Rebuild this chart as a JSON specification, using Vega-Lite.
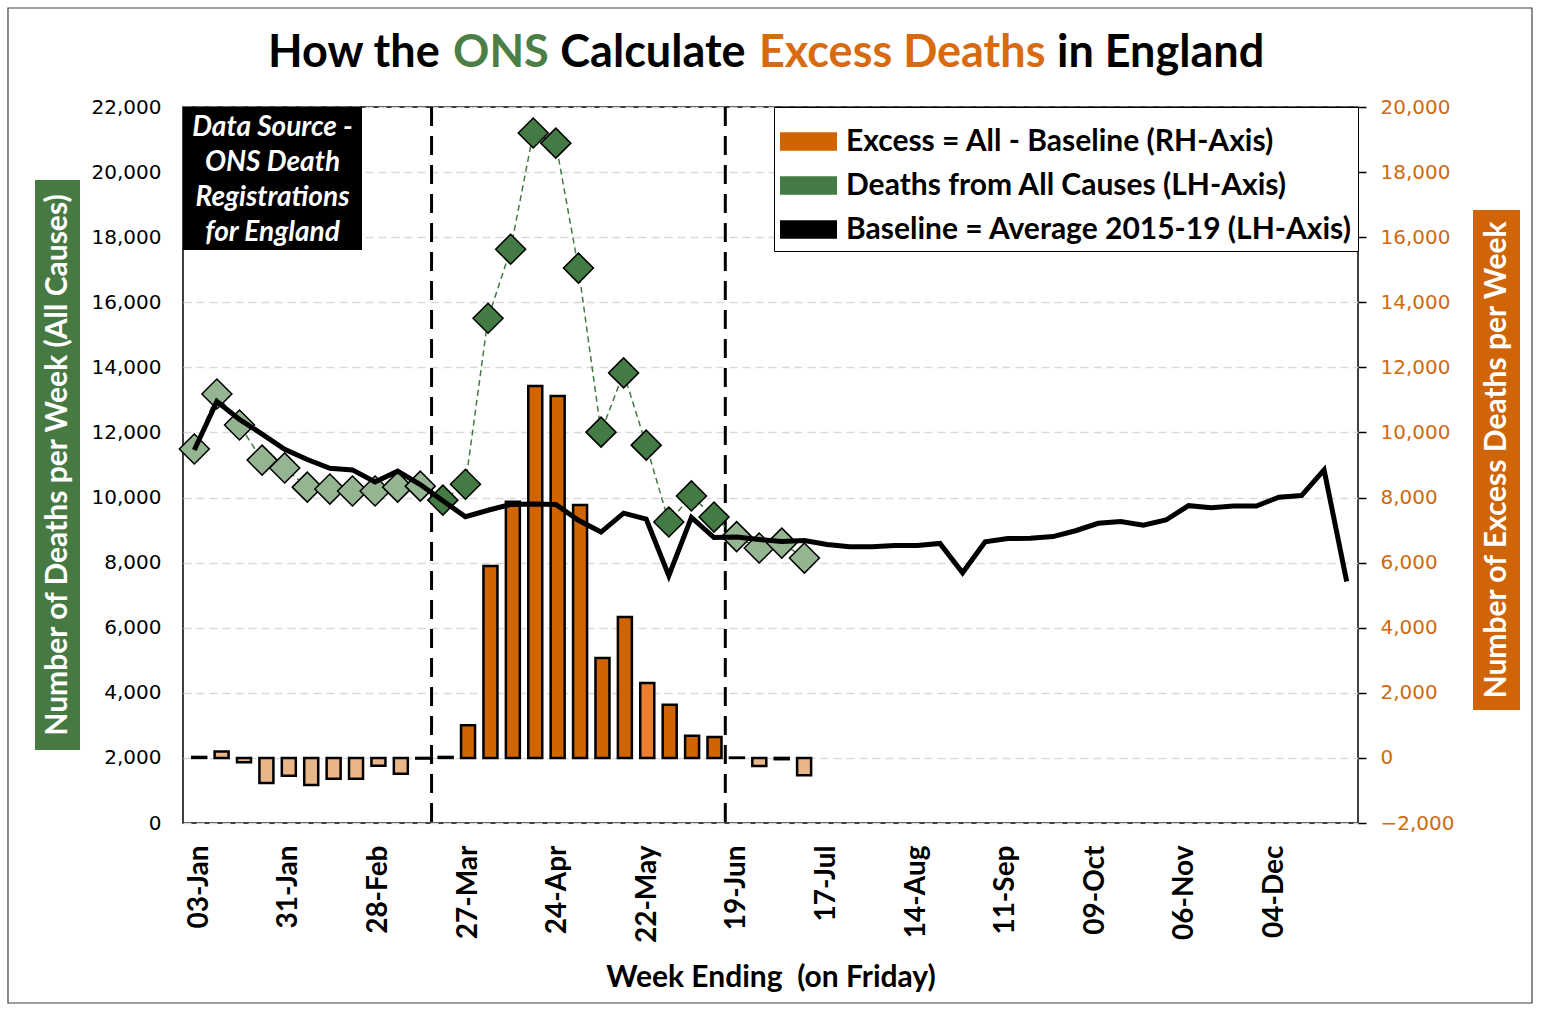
{
  "$schema": "https://vega.github.io/schema/vega-lite/v6.json",
  "width": 1175,
  "height": 716,
  "autosize": {"type": "none"},
  "padding": {"left": 183, "top": 107, "right": 184, "bottom": 190},
  "background": "white",
  "config": {"view": {"stroke": "black", "strokeWidth": 1.5}},
  "data": {"values": [
    {"wk": 1, "week": "2020-01-03", "deaths": 11490, "baseline": 11460, "excess": 30},
    {"wk": 2, "week": "2020-01-10", "deaths": 13180, "baseline": 12950, "excess": 200},
    {"wk": 3, "week": "2020-01-17", "deaths": 12230, "baseline": 12400, "excess": -130},
    {"wk": 4, "week": "2020-01-24", "deaths": 11150, "baseline": 11950, "excess": -770},
    {"wk": 5, "week": "2020-01-31", "deaths": 10910, "baseline": 11480, "excess": -550},
    {"wk": 6, "week": "2020-02-07", "deaths": 10320, "baseline": 11170, "excess": -830},
    {"wk": 7, "week": "2020-02-14", "deaths": 10260, "baseline": 10900, "excess": -640},
    {"wk": 8, "week": "2020-02-21", "deaths": 10200, "baseline": 10850, "excess": -640},
    {"wk": 9, "week": "2020-02-28", "deaths": 10200, "baseline": 10480, "excess": -240},
    {"wk": 10, "week": "2020-03-06", "deaths": 10320, "baseline": 10810, "excess": -490},
    {"wk": 11, "week": "2020-03-13", "deaths": 10350, "baseline": 10400, "excess": -20},
    {"wk": 12, "week": "2020-03-20", "deaths": 9920, "baseline": 9900, "excess": 30},
    {"wk": 13, "week": "2020-03-27", "deaths": 10410, "baseline": 9410, "excess": 1000},
    {"wk": 14, "week": "2020-04-03", "deaths": 15510, "baseline": 9610, "excess": 5900},
    {"wk": 15, "week": "2020-04-10", "deaths": 17630, "baseline": 9790, "excess": 7870},
    {"wk": 16, "week": "2020-04-17", "deaths": 21200, "baseline": 9800, "excess": 11430},
    {"wk": 17, "week": "2020-04-24", "deaths": 20890, "baseline": 9790, "excess": 11120},
    {"wk": 18, "week": "2020-05-01", "deaths": 17050, "baseline": 9300, "excess": 7770},
    {"wk": 19, "week": "2020-05-08", "deaths": 12010, "baseline": 8940, "excess": 3070},
    {"wk": 20, "week": "2020-05-15", "deaths": 13830, "baseline": 9520, "excess": 4330},
    {"wk": 21, "week": "2020-05-22", "deaths": 11610, "baseline": 9340, "excess": 2300},
    {"wk": 22, "week": "2020-05-29", "deaths": 9250, "baseline": 7600, "excess": 1630},
    {"wk": 23, "week": "2020-06-05", "deaths": 10050, "baseline": 9390, "excess": 680},
    {"wk": 24, "week": "2020-06-12", "deaths": 9400, "baseline": 8770, "excess": 640},
    {"wk": 25, "week": "2020-06-19", "deaths": 8800, "baseline": 8790, "excess": 10},
    {"wk": 26, "week": "2020-06-26", "deaths": 8450, "baseline": 8710, "excess": -250},
    {"wk": 27, "week": "2020-07-03", "deaths": 8600, "baseline": 8650, "excess": -40},
    {"wk": 28, "week": "2020-07-10", "deaths": 8140, "baseline": 8680, "excess": -530},
    {"wk": 29, "week": "2020-07-17", "deaths": null, "baseline": 8560, "excess": null},
    {"wk": 30, "week": "2020-07-24", "deaths": null, "baseline": 8490, "excess": null},
    {"wk": 31, "week": "2020-07-31", "deaths": null, "baseline": 8490, "excess": null},
    {"wk": 32, "week": "2020-08-07", "deaths": null, "baseline": 8530, "excess": null},
    {"wk": 33, "week": "2020-08-14", "deaths": null, "baseline": 8530, "excess": null},
    {"wk": 34, "week": "2020-08-21", "deaths": null, "baseline": 8590, "excess": null},
    {"wk": 35, "week": "2020-08-28", "deaths": null, "baseline": 7690, "excess": null},
    {"wk": 36, "week": "2020-09-04", "deaths": null, "baseline": 8640, "excess": null},
    {"wk": 37, "week": "2020-09-11", "deaths": null, "baseline": 8740, "excess": null},
    {"wk": 38, "week": "2020-09-18", "deaths": null, "baseline": 8750, "excess": null},
    {"wk": 39, "week": "2020-09-25", "deaths": null, "baseline": 8800, "excess": null},
    {"wk": 40, "week": "2020-10-02", "deaths": null, "baseline": 8980, "excess": null},
    {"wk": 41, "week": "2020-10-09", "deaths": null, "baseline": 9210, "excess": null},
    {"wk": 42, "week": "2020-10-16", "deaths": null, "baseline": 9260, "excess": null},
    {"wk": 43, "week": "2020-10-23", "deaths": null, "baseline": 9150, "excess": null},
    {"wk": 44, "week": "2020-10-30", "deaths": null, "baseline": 9310, "excess": null},
    {"wk": 45, "week": "2020-11-06", "deaths": null, "baseline": 9750, "excess": null},
    {"wk": 46, "week": "2020-11-13", "deaths": null, "baseline": 9690, "excess": null},
    {"wk": 47, "week": "2020-11-20", "deaths": null, "baseline": 9740, "excess": null},
    {"wk": 48, "week": "2020-11-27", "deaths": null, "baseline": 9740, "excess": null},
    {"wk": 49, "week": "2020-12-04", "deaths": null, "baseline": 10010, "excess": null},
    {"wk": 50, "week": "2020-12-11", "deaths": null, "baseline": 10060, "excess": null},
    {"wk": 51, "week": "2020-12-18", "deaths": null, "baseline": 10850, "excess": null},
    {"wk": 52, "week": "2020-12-25", "deaths": null, "baseline": 7420, "excess": null}
  ]},
  "layer": [
    {
      "mark": {"type": "bar", "size": 14, "stroke": "black", "strokeWidth": 2.5},
      "encoding": {
        "x": {
          "field": "week", "type": "temporal",
          "scale": {"type": "utc", "nice": false, "domain": [1577707200000, 1609156800000]},
          "axis": {
            "values": [1578009600000, 1580428800000, 1582848000000, 1585267200000, 1587686400000, 1590105600000, 1592524800000, 1594944000000, 1597363200000, 1599782400000, 1602201600000, 1604620800000, 1607040000000],
            "labelExpr": "utcFormat(datum.value, '%d-%b')",
            "labelAngle": 270,
            "labelFont": "Lato", "labelFontWeight": "bold", "labelFontSize": 28, "labelColor": "black",
            "labelPadding": 22, "labelFlush": false, "labelOverlap": false,
            "ticks": false, "domain": false, "grid": false,
            "title": "Week Ending\u00a0 (on Friday)",
            "titleFont": "Lato", "titleFontWeight": "bold", "titleFontSize": 30, "titleColor": "black", "titlePadding": 20
          }
        },
        "y": {
          "field": "excess", "type": "quantitative",
          "scale": {"domain": [-2000, 20000], "nice": false},
          "axis": {
            "orient": "right", "values": [-2000, 0, 2000, 4000, 6000, 8000, 10000, 12000, 14000, 16000, 18000, 20000],
            "format": ",d", "labelFont": "DejaVu Sans", "labelFontSize": 20, "labelColor": "#D0690F",
            "ticks": true, "tickSize": 8, "tickColor": "black", "tickWidth": 1.5, "labelPadding": 14,
            "domain": false, "grid": false, "title": null
          }
        },
        "color": {
          "condition": [
            {"test": "datum.wk == 21", "value": "#ED7D31"},
            {"test": "datum.wk < 12 || datum.wk > 24", "value": "#E9B68A"}
          ],
          "datum": "Excess = All - Baseline (RH-Axis)",
          "scale": {
            "domain": ["Excess = All - Baseline (RH-Axis)", "Deaths from All Causes (LH-Axis)", "Baseline = Average 2015-19 (LH-Axis)"],
            "range": ["#D06400", "#447B44", "#000000"]
          },
          "legend": {
            "title": null, "orient": "top-right", "offset": 0, "fillColor": "white", "strokeColor": "black",
            "padding": 6, "labelFont": "Lato", "labelFontWeight": "bold", "labelFontSize": 30, "labelLimit": 800,
            "symbolType": "M-1,-0.3H1V0.3H-1Z", "symbolSize": 3025, "labelOffset": 9, "rowPadding": 0,
            "symbolStrokeWidth": 2, "symbolStrokeColor": "black"
          }
        }
      }
    },
    {
      "data": {"values": [{"note": "frame"}]},
      "mark": {"type": "rect", "fillOpacity": 0, "stroke": "#404040", "strokeWidth": 1.2},
      "encoding": {
        "x": {"datum": -7.245, "type": "quantitative", "axis": null, "scale": {"domain": [0.5, 52.5], "nice": false, "zero": false}},
        "x2": {"datum": 60.2},
        "y": {"datum": 25042, "type": "quantitative", "axis": null, "scale": {"domain": [0, 22000], "nice": false, "zero": false}},
        "y2": {"datum": -5531}
      }
    },
    {
      "data": {"values": [{"note": "left axis title box"}]},
      "mark": {"type": "rect", "color": "#477A43"},
      "encoding": {
        "x": {"datum": -6.05, "type": "quantitative", "axis": null, "scale": {"domain": [0.5, 52.5], "nice": false, "zero": false}},
        "x2": {"datum": -4.058},
        "y": {"datum": 2243, "type": "quantitative", "axis": null, "scale": {"domain": [0, 22000], "nice": false, "zero": false}},
        "y2": {"datum": 19757}
      }
    },
    {
      "data": {"values": [{"note": "right axis title box"}]},
      "mark": {"type": "rect", "color": "#CF6408"},
      "encoding": {
        "x": {"datum": 57.59, "type": "quantitative", "axis": null, "scale": {"domain": [0.5, 52.5], "nice": false, "zero": false}},
        "x2": {"datum": 59.67},
        "y": {"datum": 3472, "type": "quantitative", "axis": null, "scale": {"domain": [0, 22000], "nice": false, "zero": false}},
        "y2": {"datum": 18835}
      }
    },
    {
      "data": {"values": [{"note": "left axis title"}]},
      "mark": {"type": "text", "text": "Number of Deaths per Week (All Causes)", "angle": 270, "font": "Lato", "fontWeight": "bold", "fontSize": 30, "color": "white", "align": "center", "baseline": "middle"},
      "encoding": {
        "x": {"datum": -5.054, "type": "quantitative", "axis": null, "scale": {"domain": [0.5, 52.5], "nice": false, "zero": false}},
        "y": {"datum": 11000, "type": "quantitative", "axis": null, "scale": {"domain": [0, 22000], "nice": false, "zero": false}}
      }
    },
    {
      "data": {"values": [{"note": "right axis title"}]},
      "mark": {"type": "text", "text": "Number of Excess Deaths per Week", "angle": 270, "font": "Lato", "fontWeight": "bold", "fontSize": 30, "color": "white", "align": "center", "baseline": "middle"},
      "encoding": {
        "x": {"datum": 58.63, "type": "quantitative", "axis": null, "scale": {"domain": [0.5, 52.5], "nice": false, "zero": false}},
        "y": {"datum": 11154, "type": "quantitative", "axis": null, "scale": {"domain": [0, 22000], "nice": false, "zero": false}}
      }
    },
    {
      "data": {"values": [{"note": "source box"}]},
      "mark": {"type": "rect", "color": "black"},
      "encoding": {
        "x": {"datum": 0.5, "type": "quantitative", "axis": null, "scale": {"domain": [0.5, 52.5], "nice": false, "zero": false}},
        "x2": {"datum": 8.422},
        "y": {"datum": 17606, "type": "quantitative", "axis": null, "scale": {"domain": [0, 22000], "nice": false, "zero": false}},
        "y2": {"datum": 22000}
      }
    },
    {
      "data": {"values": [{"note": "source"}]},
      "mark": {"type": "text", "text": ["Data Source -", "ONS Death", "Registrations", "for England"], "lineHeight": 35, "font": "Lato", "fontWeight": "bold", "fontStyle": "italic", "fontSize": 28, "color": "white", "align": "center", "baseline": "middle"},
      "encoding": {
        "x": {"datum": 4.461, "type": "quantitative", "axis": null, "scale": {"domain": [0.5, 52.5], "nice": false, "zero": false}},
        "y": {"datum": 21355, "type": "quantitative", "axis": null, "scale": {"domain": [0, 22000], "nice": false, "zero": false}}
      }
    },
    {
      "data": {"values": [{"note": "title"}]},
      "mark": {"type": "text", "text": "How the", "font": "Lato", "fontWeight": "bold", "fontSize": 45, "color": "black", "align": "left", "baseline": "alphabetic"},
      "encoding": {
        "x": {"datum": 4.262, "type": "quantitative", "axis": null, "scale": {"domain": [0.5, 52.5], "nice": false, "zero": false}},
        "y": {"datum": 23229, "type": "quantitative", "axis": null, "scale": {"domain": [0, 22000], "nice": false, "zero": false}}
      }
    },
    {
      "data": {"values": [{"note": "title"}]},
      "mark": {"type": "text", "text": "ONS", "font": "Lato", "fontWeight": "bold", "fontSize": 45, "color": "#4B7F45", "align": "left", "baseline": "alphabetic"},
      "encoding": {
        "x": {"datum": 12.45, "type": "quantitative", "axis": null, "scale": {"domain": [0.5, 52.5], "nice": false, "zero": false}},
        "y": {"datum": 23229, "type": "quantitative", "axis": null, "scale": {"domain": [0, 22000], "nice": false, "zero": false}}
      }
    },
    {
      "data": {"values": [{"note": "title"}]},
      "mark": {"type": "text", "text": "Calculate", "font": "Lato", "fontWeight": "bold", "fontSize": 45, "color": "black", "align": "left", "baseline": "alphabetic"},
      "encoding": {
        "x": {"datum": 17.2, "type": "quantitative", "axis": null, "scale": {"domain": [0.5, 52.5], "nice": false, "zero": false}},
        "y": {"datum": 23229, "type": "quantitative", "axis": null, "scale": {"domain": [0, 22000], "nice": false, "zero": false}}
      }
    },
    {
      "data": {"values": [{"note": "title"}]},
      "mark": {"type": "text", "text": "Excess Deaths", "font": "Lato", "fontWeight": "bold", "fontSize": 45, "color": "#D86A10", "align": "left", "baseline": "alphabetic"},
      "encoding": {
        "x": {"datum": 25.991, "type": "quantitative", "axis": null, "scale": {"domain": [0.5, 52.5], "nice": false, "zero": false}},
        "y": {"datum": 23229, "type": "quantitative", "axis": null, "scale": {"domain": [0, 22000], "nice": false, "zero": false}}
      }
    },
    {
      "data": {"values": [{"note": "title"}]},
      "mark": {"type": "text", "text": "in England", "font": "Lato", "fontWeight": "bold", "fontSize": 45, "color": "black", "align": "left", "baseline": "alphabetic"},
      "encoding": {
        "x": {"datum": 39.179, "type": "quantitative", "axis": null, "scale": {"domain": [0.5, 52.5], "nice": false, "zero": false}},
        "y": {"datum": 23229, "type": "quantitative", "axis": null, "scale": {"domain": [0, 22000], "nice": false, "zero": false}}
      }
    },
    {
      "data": {"values": [{"note": "period start"}]},
      "mark": {"type": "rule", "color": "black", "strokeWidth": 3, "strokeDash": [19, 10]},
      "encoding": {
        "x": {"datum": 11.5, "type": "quantitative", "axis": null, "scale": {"domain": [0.5, 52.5], "nice": false, "zero": false}}
      }
    },
    {
      "data": {"values": [{"note": "period end"}]},
      "mark": {"type": "rule", "color": "black", "strokeWidth": 3, "strokeDash": [19, 10]},
      "encoding": {
        "x": {"datum": 24.5, "type": "quantitative", "axis": null, "scale": {"domain": [0.5, 52.5], "nice": false, "zero": false}}
      }
    },
    {
      "mark": {"type": "line", "strokeWidth": 1.5, "strokeDash": [6, 4]},
      "encoding": {
        "x": {"field": "week", "type": "temporal", "axis": null, "scale": {"type": "utc", "nice": false, "domain": [1577707200000, 1609156800000]}},
        "y": {"field": "deaths", "type": "quantitative", "axis": null, "scale": {"domain": [0, 22000], "nice": false, "zero": false}},
        "color": {"datum": "Deaths from All Causes (LH-Axis)", "legend": null,
          "scale": {"domain": ["Excess = All - Baseline (RH-Axis)", "Deaths from All Causes (LH-Axis)", "Baseline = Average 2015-19 (LH-Axis)"], "range": ["#D06400", "#447B44", "#000000"]}}
      }
    },
    {
      "mark": {"type": "point", "shape": "diamond", "filled": true, "size": 900, "stroke": "black", "strokeWidth": 1.5, "opacity": 1},
      "encoding": {
        "x": {"field": "week", "type": "temporal", "axis": null, "scale": {"type": "utc", "nice": false, "domain": [1577707200000, 1609156800000]}},
        "y": {"field": "deaths", "type": "quantitative", "axis": null, "scale": {"domain": [0, 22000], "nice": false, "zero": false}},
        "color": {
          "condition": {"test": "datum.wk < 12 || datum.wk > 24", "value": "#95B492"},
          "datum": "Deaths from All Causes (LH-Axis)", "legend": null,
          "scale": {"domain": ["Excess = All - Baseline (RH-Axis)", "Deaths from All Causes (LH-Axis)", "Baseline = Average 2015-19 (LH-Axis)"], "range": ["#D06400", "#447B44", "#000000"]}}
      }
    },
    {
      "mark": {"type": "line", "strokeWidth": 5, "strokeJoin": "miter"},
      "encoding": {
        "x": {"field": "week", "type": "temporal", "axis": null, "scale": {"type": "utc", "nice": false, "domain": [1577707200000, 1609156800000]}},
        "y": {
          "field": "baseline", "type": "quantitative",
          "scale": {"domain": [0, 22000], "nice": false, "zero": false},
          "axis": {
            "orient": "left", "values": [0, 2000, 4000, 6000, 8000, 10000, 12000, 14000, 16000, 18000, 20000, 22000],
            "format": ",d", "labelFont": "DejaVu Sans", "labelFontSize": 20, "labelColor": "black",
            "ticks": false, "labelPadding": 22, "domain": false,
            "grid": true, "gridColor": "#D9D9D9", "gridDash": [8, 5], "gridWidth": 1.5, "title": null
          }
        },
        "color": {"datum": "Baseline = Average 2015-19 (LH-Axis)", "legend": null,
          "scale": {"domain": ["Excess = All - Baseline (RH-Axis)", "Deaths from All Causes (LH-Axis)", "Baseline = Average 2015-19 (LH-Axis)"], "range": ["#D06400", "#447B44", "#000000"]}}
      }
    }
  ],
  "resolve": {"scale": {"x": "independent", "y": "independent"}}
}
